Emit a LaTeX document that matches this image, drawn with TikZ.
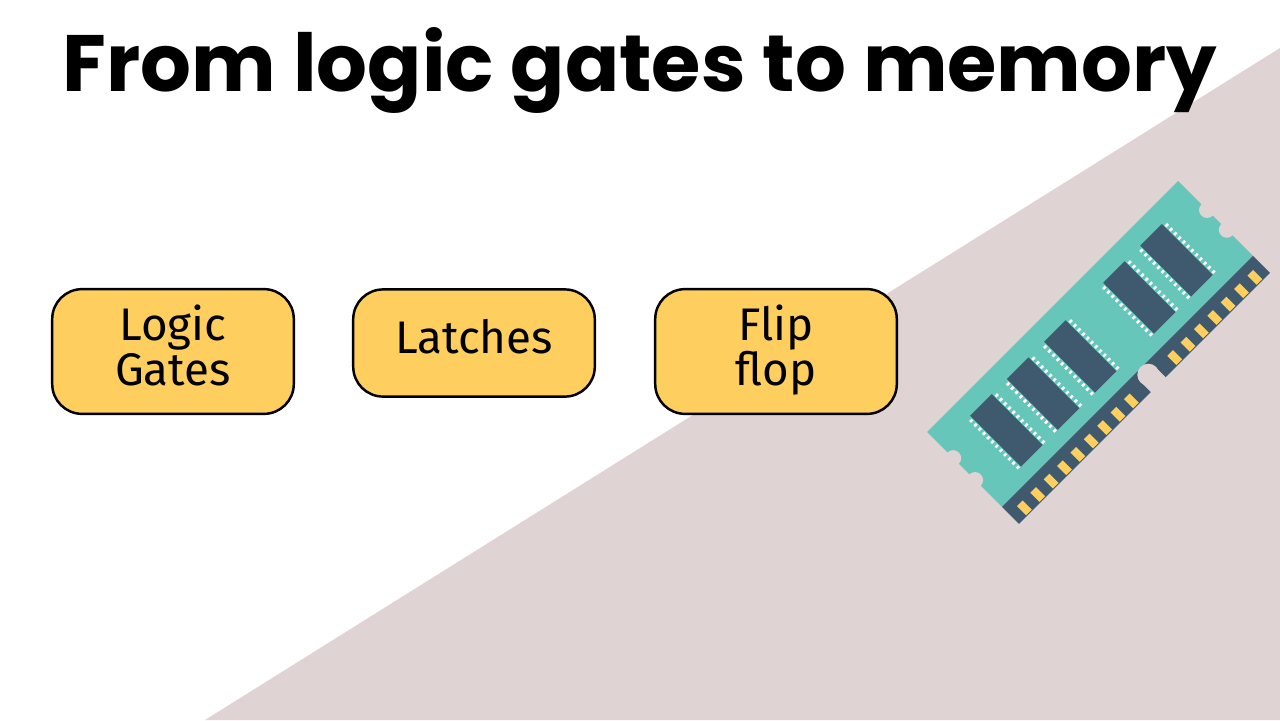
\documentclass[tikz,border=0pt]{standalone}
\usepackage{fontspec}
\setmainfont{Fira Sans}
\newfontfamily\titlefont{Poppins}
\definecolor{wallpink}{HTML}{E0D3D3}
\definecolor{boardteal}{HTML}{66C6B9}
\definecolor{chipblue}{HTML}{3F5A6E}
\definecolor{boxgold}{HTML}{FECE5F}
\newcommand{\lift}{\rule[-7pt]{0pt}{0pt}}
\tikzset{
    stagebox/.style={draw=black, fill=boxgold, line width=1.4pt, rounded corners=17pt, minimum width=137.5pt, align=center, inner sep=0pt, font=\fontsize{26}{25.5}\selectfont},
    ramcut/.style={fill=wallpink, draw=none},
    chip/.style={fill=chipblue, draw=none},
    chipleg/.style={fill=white, draw=none},
    goldpin/.style={fill=boxgold, draw=none}
}

\begin{document}
\begin{tikzpicture}[x=0.02cm, y=-0.02cm]
    \useasboundingbox (0, 0) rectangle (1280, 720);
    \fill[white] (0, 0) rectangle (1280, 720);
    \fill[wallpink] (205, 720) -- (1280, 48) -- (1280, 720) -- cycle;

    \node[font=\titlefont\bfseries\fontsize{45.5}{55}\selectfont] (title) at (640, 70.5) {From logic gates to memory};

    \node[stagebox, minimum height=71pt] (logic) at (173, 351.5) {Logic\\Gates\lift};
    \node[stagebox, minimum height=61pt] (latches) at (474, 343) {Latches\lift};
    \node[stagebox, minimum height=71pt] (flip) at (776, 351.5) {Flip\\flop\lift};

    \begin{scope}[shift={(927, 432)}, rotate=45]
        \fill[boardteal] (0, 0) rectangle (355, 106);
        \fill[chipblue] (0, 106) rectangle (355, 130);

        \foreach \n in {37, 68}
            \fill[ramcut] (0, \n) circle (8);
        \foreach \n in {41, 69}
            \fill[ramcut] (355, \n) circle (8);
        \fill[ramcut] (197, 116) circle (11);
        \fill[ramcut] (186.5, 116) rectangle (207.5, 131);

        \foreach \u in {42, 94, 146.6, 230, 282.6} {
            \fill[chip] (\u, 19) rectangle ++(30.5, 72);
            \foreach \v in {0, ..., 11} {
                \fill[chipleg] (\u - 4.5, 22 + \v * 6) rectangle ++(3.5, 2.6);
                \fill[chipleg] (\u + 31.5, 22 + \v * 6) rectangle ++(3.5, 2.6);
            }
        }

        \foreach \u in {0, ..., 8}
            \fill[goldpin] (11.25 + \u * 18.9, 116) rectangle ++(8, 13);
        \foreach \u in {0, ..., 6}
            \fill[goldpin] (223.75 + \u * 18.9, 116) rectangle ++(8, 13);
    \end{scope}
\end{tikzpicture}
\end{document}
